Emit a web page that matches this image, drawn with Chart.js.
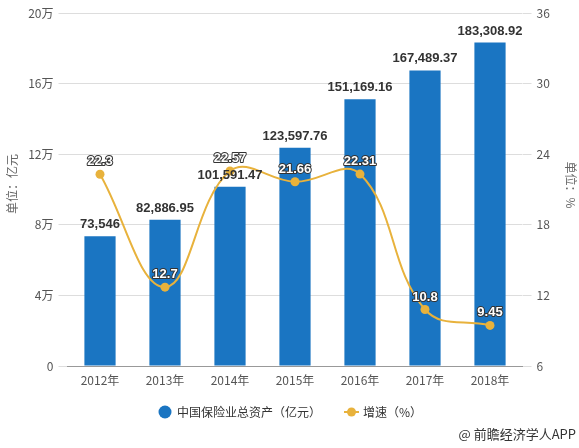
<!DOCTYPE html>
<html>
<head>
<meta charset="utf-8">
<script src="https://cdn.jsdelivr.net/npm/chart.js@4/dist/chart.umd.min.js"></script>
<style>
  html, body { margin: 0; padding: 0; background: #fff; }
  #wrap { width: 579px; height: 448px; position: relative; }
</style>
</head>
<body>
<div id="wrap"><canvas id="ctx"></canvas></div>
<script>
const years = ['2012年', '2013年', '2014年', '2015年', '2016年', '2017年', '2018年']
const totalAssets = [73546, 82886.95, 101591.47, 123597.76, 151169.16, 167489.37, 183308.92]
const assetLabels = ['73,546', '82,886.95', '101,591.47', '123,597.76', '151,169.16', '167,489.37', '183,308.92']
const growthRate = [22.3, 12.7, 22.57, 21.66, 22.31, 10.8, 9.45]
const leftTicks = ['0', '4万', '8万', '12万', '16万', '20万']

const FONT = '"Noto Sans CJK SC", "Noto Sans", sans-serif'
const BLUE = '#1a75c2'
const GOLD = '#e8b23c'

// value labels, axis titles, legend and credit line
const extras = {
  id: 'extras',
  afterDatasetsDraw: (chart) => {
    const {ctx} = chart
    ctx.save()
    ctx.textAlign = 'center'
    ctx.textBaseline = 'bottom'
    ctx.font = 'bold 13px "Liberation Sans", Arial, sans-serif'
    ctx.fillStyle = '#333'
    chart.getDatasetMeta(0).data.forEach((bar, i) => {
      ctx.fillText(assetLabels[i], bar.x, bar.y - 5)
    })
    ctx.lineJoin = 'round'
    ctx.lineWidth = 2
    ctx.strokeStyle = '#333'
    ctx.fillStyle = '#fff'
    chart.getDatasetMeta(1).data.forEach((pt, i) => {
      const t = String(growthRate[i])
      ctx.strokeText(t, pt.x, pt.y - 6)
      ctx.fillText(t, pt.x, pt.y - 6)
    })
    ctx.restore()
  },
  afterDraw: (chart) => {
    const {ctx} = chart
    ctx.save()
    ctx.fillStyle = '#666'
    ctx.font = '12px ' + FONT
    ctx.textAlign = 'center'
    ctx.textBaseline = 'middle'

    ctx.save()
    ctx.translate(12, 184)
    ctx.rotate(-Math.PI / 2)
    ctx.fillText('单位：亿元', 0, 0)
    ctx.restore()

    ctx.save()
    ctx.translate(571, 185)
    ctx.rotate(Math.PI / 2)
    ctx.fillText('单位：%', 0, 0)
    ctx.restore()

    // legend
    ctx.fillStyle = BLUE
    ctx.beginPath()
    ctx.arc(165, 412, 6.5, 0, Math.PI * 2)
    ctx.fill()
    ctx.fillStyle = '#333'
    ctx.textAlign = 'left'
    ctx.font = '12px ' + FONT
    ctx.fillText('中国保险业总资产（亿元）', 177, 412)

    ctx.strokeStyle = GOLD
    ctx.lineWidth = 2
    ctx.beginPath()
    ctx.moveTo(344, 412)
    ctx.lineTo(359, 412)
    ctx.stroke()
    ctx.fillStyle = GOLD
    ctx.beginPath()
    ctx.arc(351.5, 412, 4.5, 0, Math.PI * 2)
    ctx.fill()
    ctx.fillStyle = '#333'
    ctx.fillText('增速（%）', 363, 412)

    ctx.textAlign = 'right'
    ctx.font = '13px ' + FONT
    ctx.fillText('@ 前瞻经济学人APP', 576, 434)
    ctx.restore()
  }
}

const data = {
  labels: years,
  datasets: [
    {
      type: 'bar',
      data: totalAssets,
      backgroundColor: BLUE,
      barPercentage: 0.48,
      categoryPercentage: 1,
      yAxisID: 'y',
      order: 1
    },
    {
      type: 'line',
      data: growthRate,
      borderColor: GOLD,
      backgroundColor: GOLD,
      borderWidth: 2,
      tension: 0.4,
      pointRadius: 4.5,
      pointBorderWidth: 0,
      pointBackgroundColor: GOLD,
      yAxisID: 'y1',
      order: 0
    }
  ]
}

const options = {
  responsive: false,
  animation: false,
  devicePixelRatio: 1,
  layout: { padding: { top: 13, left: 0, right: 0, bottom: 0 } },
  plugins: { legend: { display: false }, tooltip: { enabled: false } },
  scales: {
    x: {
      grid: { display: false, drawTicks: false },
      border: { display: true, color: '#999' },
      ticks: { color: '#555', font: { family: FONT, size: 12 }, padding: 7 },
      afterFit: (s) => { s.height = 82 }
    },
    y: {
      position: 'left',
      min: 0, max: 200000,
      grid: { color: '#ddd', tickLength: 9, tickColor: '#ddd' },
      border: { display: false },
      ticks: {
        stepSize: 40000,
        color: '#555',
        font: { family: FONT, size: 12 },
        padding: 5,
        callback: (v, i) => leftTicks[i]
      },
      afterFit: (s) => { s.width = 67.5 }
    },
    y1: {
      position: 'right',
      min: 6, max: 36,
      grid: { drawOnChartArea: false, tickLength: 9, tickColor: '#ddd' },
      border: { display: false },
      ticks: { stepSize: 6, color: '#555', font: { family: FONT, size: 12 }, padding: 5 },
      afterFit: (s) => { s.width = 56.5 }
    }
  }
}

const canvas = document.getElementById('ctx')
canvas.width = 579
canvas.height = 448
const chart = new Chart(canvas, { data: data, options: options, plugins: [extras] })
</script>
</body>
</html>
